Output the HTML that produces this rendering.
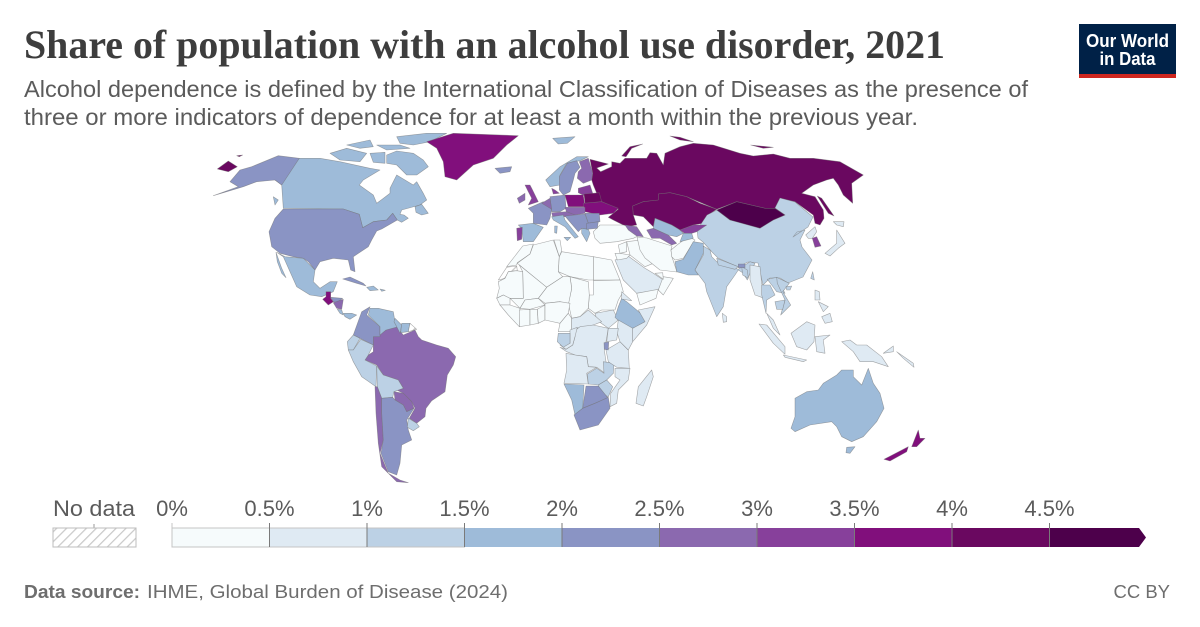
<!DOCTYPE html>
<html lang="en">
<head>
<meta charset="utf-8">
<title>Share of population with an alcohol use disorder, 2021</title>
<style>
html,body{margin:0;padding:0;background:#fff;width:1200px;height:627px;overflow:hidden}
svg{display:block}
text{font-family:"Liberation Sans",sans-serif}
</style>
</head>
<body>
<svg id="chart" width="1200" height="627" viewBox="0 0 1200 627" xmlns="http://www.w3.org/2000/svg">
<defs>
<pattern id="hatch" patternUnits="userSpaceOnUse" width="7" height="7" patternTransform="rotate(45)">
<rect width="7" height="7" fill="#fff"/>
<line x1="0" y1="0" x2="0" y2="7" stroke="#c9c9c9" stroke-width="2.5"/>
</pattern>
</defs>
<rect width="1200" height="627" fill="#fff"/>
<text x="24" y="58" textLength="921" lengthAdjust="spacingAndGlyphs" style="font-family:'Liberation Serif',serif;font-weight:700;font-size:40px" fill="#3d3d3d">Share of population with an alcohol use disorder, 2021</text>
<text x="24" y="97" textLength="1004" lengthAdjust="spacingAndGlyphs" font-size="23" fill="#5b5b5b">Alcohol dependence is defined by the International Classification of Diseases as the presence of</text>
<text x="24" y="125" textLength="894" lengthAdjust="spacingAndGlyphs" font-size="23" fill="#5b5b5b">three or more indicators of dependence for at least a month within the previous year.</text>
<g>
<rect x="1079" y="24" width="97" height="54" fill="#002147"/>
<rect x="1079" y="74" width="97" height="4" fill="#ce261e"/>
<text x="1127.5" y="47" text-anchor="middle" font-size="18" font-weight="700" fill="#fff" textLength="83" lengthAdjust="spacingAndGlyphs">Our World</text>
<text x="1127.5" y="65" text-anchor="middle" font-size="18" font-weight="700" fill="#fff" textLength="56" lengthAdjust="spacingAndGlyphs">in Data</text>
</g>
<g id="map"></g>
<g id="legend">
<text x="53" y="516" font-size="22" fill="#5b5b5b" textLength="82" lengthAdjust="spacingAndGlyphs">No data</text>
<line x1="94" y1="524" x2="94" y2="528" stroke="#999"/>
<rect x="53" y="528" width="83" height="19" fill="url(#hatch)" stroke="#bdbdbd"/>
</g>
<text x="24" y="598" font-size="18.5" font-weight="700" fill="#6e6e6e" textLength="116" lengthAdjust="spacingAndGlyphs">Data source:</text>
<text x="147" y="598" font-size="18.5" fill="#6e6e6e" textLength="361" lengthAdjust="spacingAndGlyphs">IHME, Global Burden of Disease (2024)</text>
<text x="1170" y="598" text-anchor="end" font-size="18.5" fill="#6e6e6e">CC BY</text>
</svg>
<script>
// Legend data
const binEdges = [0, 0.5, 1, 1.5, 2, 2.5, 3, 3.5, 4, 4.5];
const tickLabels = ["0%", "0.5%", "1%", "1.5%", "2%", "2.5%", "3%", "3.5%", "4%", "4.5%"];
const binColors = ["#f6fbfc", "#dfeaf3", "#bcd1e5", "#9ebbd9", "#8a94c4", "#8b69af", "#87409b", "#810f7c", "#6a0860", "#4d004b"];

// Country values (% of population)
const countries = ["Russia","Kazakhstan","Mongolia","China","Canada","USA","Alaska","Chukotka","Greenland","Iceland","UK","Ireland","Mexico","Guatemala","Honduras","Nicaragua","Costa Rica","Panama","Cuba","Hispaniola","Jamaica","Brazil","Colombia","Venezuela","Guyana","Suriname","French Guiana","Ecuador","Peru","Bolivia","Paraguay","Chile","Argentina","Uruguay","Morocco","Western Sahara","Algeria","Tunisia","Libya","Egypt","Sudan","South Sudan","Chad","Niger","Mali","Mauritania","Senegal","Guinea","Ivory Coast","Burkina Faso","Ghana","Nigeria","Cameroon","Central African Republic","Ethiopia","Eritrea","Somalia","DR Congo","Congo","Gabon","Angola","Zambia","Tanzania","Kenya","Uganda","Rwanda","Mozambique","Zimbabwe","Namibia","Botswana","South Africa","Madagascar","Saudi Arabia","Yemen","Oman","Iraq","Syria","Turkey","Iran","Afghanistan","Pakistan","India","Nepal","Bangladesh","Bhutan","Turkmenistan","Uzbekistan","Kyrgyzstan","Tajikistan","Caucasus","France","Spain","Portugal","Germany","Benelux","Denmark","Norway","Sweden","Finland","Baltics","Poland","Belarus","Ukraine","Romania","Czechia Hungary","Austria","Italy","Sardinia","Sicily","Balkans","Greece","Bulgaria","North Korea","South Korea","Japan","Hokkaido","Myanmar","Thailand","Laos","Vietnam","Cambodia","Malaysia","Sumatra","Java","Borneo","Sulawesi","New Guinea","Philippines","Mindanao","Australia","Tasmania","New Zealand","Sri Lanka","Taiwan","Hainan","Novaya Zemlya","Svalbard","Benin Togo","UAE","Jordan"];
const values = [4.2,4.1,4.8,1.2,1.7,2.2,2.2,4.2,3.7,2.2,3.2,2.8,1.7,3.8,2.2,2.7,1.7,1.7,2.0,1.7,1.7,2.7,2.2,1.7,1.7,1.7,null,1.2,1.2,1.2,2.7,2.8,2.2,1.3,0.2,null,0.2,0.2,0.2,0.2,0.2,0.7,0.2,0.2,0.2,0.2,0.3,0.3,0.3,0.2,0.3,0.2,0.3,0.7,1.7,0.7,0.7,0.7,0.7,1.2,0.7,1.2,0.7,0.7,0.7,2.2,0.7,1.2,1.7,2.2,2.3,0.7,0.7,0.2,0.2,0.2,0.2,0.2,0.2,0.2,1.7,1.2,1.2,1.2,2.2,2.7,1.7,3.2,1.7,2.6,2.2,1.7,3.2,2.2,2.7,3.2,1.7,2.2,2.7,3.0,3.7,4.2,3.7,2.3,2.9,2.7,1.8,1.8,1.8,2.4,1.7,2.2,0.7,3.2,0.7,0.7,0.7,1.2,1.2,1.2,1.2,0.7,0.7,0.7,0.7,0.7,0.7,0.7,0.7,1.7,1.7,3.7,0.7,1.2,1.2,4.2,1.7,0.3,0.2,0.2];

// Map geometry: outline for each country, relative to a zoom frame
const frameOrigins = {a:[0,0,1], b:[200,125,1/3], c:[480,130,1/3], d:[480,230,1/3], e:[660,220,1/3], f:[300,280,1/3], g:[510,170,1/3]};
const geometry = [
["Russia","c","330,88 385,102 350,114 362,125 395,110 395,95 420,100 435,85 500,85 510,68 530,70 550,105 555,70 600,50 640,40 700,45 780,70 820,78 880,72 930,85 1000,85 1080,95 1150,135 1115,160 1118,220 1090,195 1075,165 1060,145 1040,150 1000,165 965,190 1005,200 1030,240 1032,265 1020,285 1005,280 1000,255 945,215 900,205 885,235 855,235 770,215 710,238 620,200 570,188 535,192 535,210 490,215 458,228 460,255 470,285 440,290 400,270 385,262 415,238 365,215 350,190 340,165 335,150 338,130"],
["Russia","c","1012,198 1025,205 1062,258 1045,250"],
["Novaya Zemlya","c","425,78 450,50 488,42 455,55 438,80"],
["Novaya Zemlya","c","570,18 600,22 640,35 600,30"],
["Novaya Zemlya","c","812,45 880,52 850,55"],
["Svalbard","c","218,25 285,20 262,40 235,42"],
["Kazakhstan","c","458,228 490,215 535,210 535,192 570,188 620,200 660,220 710,238 680,258 670,280 640,285 600,300 575,285 525,265 520,290 490,260 460,255"],
["China","a","697,230 707,215 717,210 730,220 760,227 773,220 785,215 775,208 780,198 795,202 813,217 808,227 793,237 797,232 805,230 800,240 802,247 812,260 803,277 788,283 780,278 770,278 763,285 758,263 748,262 738,267 718,258 712,252 703,242 698,238"],
["Mongolia","c","710,240 770,215 855,235 885,235 915,255 880,270 840,295 750,270"],
["Canada","b","298,100 225,165 245,180 250,250 430,252 478,268 488,308 520,290 560,285 578,265 592,285 605,292 625,280 612,270 600,268 605,255 660,240 680,225 670,205 650,170 640,180 590,150 570,190 570,205 530,235 520,210 478,180 490,165 540,135 510,130 420,110 360,100"],
["Canada","b","560,90 590,78 640,85 670,105 685,125 650,150 620,150 590,120 560,115"],
["Canada","b","590,35 680,25 740,25 690,50 640,60 600,55"],
["Canada","b","390,85 440,70 500,85 480,110 420,105"],
["Canada","b","440,60 510,45 520,65 480,70"],
["Canada","b","530,60 600,60 630,70 560,75"],
["Canada","b","510,85 555,82 555,115 520,112"],
["Canada","b","645,245 665,238 685,265 665,270 648,262"],
["Canada","b","220,215 235,225 225,240"],
["USA","b","250,252 430,252 478,268 488,308 520,290 560,285 578,265 592,285 575,295 545,312 530,318 515,345 505,365 460,395 465,440 452,435 445,405 400,400 360,410 345,435 325,410 310,400 280,395 240,385 215,365 207,320 225,280"],
["Alaska","b","298,100 235,92 155,125 120,135 90,170 115,185 40,212 130,185 170,170 225,165 245,180"],
["Chukotka","b","52,132 85,108 112,125 85,140"],
["Chukotka","b","110,92 128,90 118,95"],
["Greenland","b","680,50 760,25 955,32 920,60 880,100 820,120 770,165 735,155 730,110 710,70"],
["Iceland","b","885,130 935,125 930,140 900,145"],
["Ireland","g","22,85 45,70 45,90 28,100"],
["Mexico","b","230,382 255,395 310,400 345,435 340,470 360,490 390,470 412,470 400,500 365,515 330,510 290,485 270,440 250,395"],
["Mexico","b","228,382 245,430 258,458 245,445 232,410"],
["Guatemala","f","68,58 78,50 78,35 92,35 92,55 100,65 85,75"],
["Honduras","f","92,52 128,55 110,68 100,65"],
["Nicaragua","f","100,68 130,58 125,88 110,85"],
["Costa Rica","f","112,88 125,90 130,105 120,100"],
["Panama","f","130,100 155,100 170,105 150,118 135,110"],
["Cuba","b","428,462 450,456 490,475 498,483 470,475"],
["Hispaniola","b","500,487 520,483 535,495 510,497"],
["Jamaica","b","540,492 556,496 545,499"],
["Brazil","f","220,170 258,150 290,140 310,165 345,150 355,170 365,180 410,195 445,205 467,230 460,255 442,285 435,335 395,362 378,385 375,410 350,430 328,415 345,385 335,365 310,340 290,330 310,325 295,300 250,285 230,255 195,240 205,225 220,215"],
["Colombia","f","160,165 185,95 210,80 200,105 240,140 240,170 220,170 220,195 180,175"],
["Venezuela","f","210,85 235,85 280,95 285,125 295,140 258,150 240,165 240,140 205,105"],
["Guyana","f","285,115 305,135 300,160 290,140 282,125"],
["Suriname","f","305,130 330,130 325,155 302,158"],
["French Guiana","f","330,130 350,148 325,155"],
["Ecuador","f","142,185 160,165 180,175 160,210 145,210"],
["Peru","f","145,210 160,210 182,178 220,195 205,225 195,240 230,258 228,320 185,290 160,245"],
["Bolivia","f","230,258 250,285 295,300 310,325 282,335 278,352 245,355 232,320"],
["Paraguay","f","282,335 310,340 335,365 342,385 320,395 310,375 285,360"],
["Chile","f","225,320 232,320 245,355 245,400 250,480 240,520 265,580 300,600 325,608 290,605 245,560 235,490 228,400"],
["Argentina","f","245,355 278,352 285,360 310,375 320,395 342,385 320,420 325,450 335,480 305,495 300,550 290,585 265,575 243,520 250,480 245,400"],
["Uruguay","f","325,415 350,430 358,440 340,452 322,442"],
["Morocco","d","160,42 128,48 105,78 80,110 110,105 112,98 150,72"],
["Western Sahara","d","55,150 80,112 110,108 112,122 85,125 75,145"],
["Algeria","d","160,45 220,30 238,80 235,125 248,140 200,172 112,100 150,72"],
["Tunisia","d","222,30 240,30 245,62 238,80"],
["Libya","d","245,65 340,80 340,150 325,150 270,140 235,125 238,80"],
["Egypt","d","340,80 395,90 420,150 340,150"],
["Sudan","d","340,152 420,150 430,185 415,210 405,240 385,240 365,240 345,250 325,235 328,195 340,195"],
["South Sudan","d","345,250 400,240 415,270 385,295 350,270"],
["Chad","d","270,140 325,155 328,195 325,235 300,260 275,265 265,220 275,175"],
["Niger","d","200,172 248,140 270,140 275,175 265,225 240,215 195,220 175,205"],
["Mali","d","118,105 200,172 175,205 135,210 120,235 90,205 130,205 128,125"],
["Mauritania","d","55,155 75,145 85,125 110,122 128,125 130,205 88,205 70,195 50,205 58,175"],
["Senegal","d","50,205 70,195 90,205 90,225 60,225"],
["Guinea","d","60,225 90,225 120,235 118,290 85,255"],
["Ivory Coast","d","118,240 150,238 150,285 118,290"],
["Burkina Faso","d","135,210 175,205 195,225 150,238 120,235"],
["Ghana","d","150,238 172,238 175,280 150,285"],
["Benin Togo","d","172,238 195,225 195,270 175,280"],
["Nigeria","d","195,220 240,215 270,220 265,250 240,280 195,270"],
["Cameroon","d","240,280 265,250 275,265 275,300 280,305 235,305"],
["Central African Republic","d","275,265 300,260 325,240 365,275 340,285 290,295 275,300"],
["Ethiopia","d","425,205 440,215 470,240 505,270 470,290 445,300 405,262 415,230"],
["Eritrea","d","425,185 455,212 425,207"],
["Somalia","d","475,240 525,230 500,285 458,335 458,295 495,275"],
["DR Congo","d","280,305 300,290 340,285 385,295 378,335 373,360 378,395 400,430 375,430 350,412 325,410 320,380 285,375 260,365 240,352 258,358 278,345 285,320"],
["Congo","d","270,300 292,292 285,320 278,345 258,358 240,345 250,335 270,340"],
["Gabon","d","235,310 270,310 270,340 250,352 232,335"],
["Angola","d","258,370 285,375 320,380 325,410 350,412 320,430 325,462 252,460 260,420"],
["Zambia","d","322,432 350,415 372,430 370,395 402,400 400,430 380,450 355,465 325,462"],
["Tanzania","d","378,360 420,335 445,360 448,415 410,412 385,395"],
["Kenya","d","415,270 458,295 458,335 445,360 420,335 410,305"],
["Uganda","d","385,295 415,295 410,330 380,335"],
["Rwanda","d","372,338 386,336 385,360 373,358"],
["Mozambique","d","405,415 450,415 445,450 415,480 410,520 390,530 392,490 420,450 405,440"],
["Zimbabwe","d","355,465 380,450 398,470 385,500 360,490"],
["Namibia","d","252,462 312,465 308,535 285,555 275,510"],
["Botswana","d","318,468 355,468 385,505 345,520 308,535"],
["South Africa","d","308,535 345,520 385,502 390,535 355,585 300,600 282,555"],
["Madagascar","d","515,420 520,440 500,500 490,528 468,520 475,470"],
["Saudi Arabia","d","405,90 440,75 495,115 520,130 550,150 535,180 470,190 430,150"],
["Yemen","d","470,190 535,178 528,205 480,225"],
["Oman","d","550,140 580,145 550,195 535,180"],
["UAE","d","525,130 548,128 550,148"],
["Iraq","d","440,35 480,30 490,60 520,100 495,110 450,75"],
["Syria","d","415,45 440,35 440,65 420,70"],
["Jordan","d","405,70 420,70 450,75 440,85 412,90"],
["Turkey","g","250,185 270,165 340,165 375,175 390,195 370,205 320,215 270,220 255,205"],
["Iran","a","637,237 647,238 653,240 672,246 671,250 672,257 677,272 660,270 645,258 640,250"],
["Afghanistan","e","33,90 55,72 85,50 105,60 95,75 70,115 45,120 35,110"],
["Pakistan","e","45,125 70,118 100,65 130,70 130,100 105,150 115,165 85,165 50,155"],
["India","e","130,78 150,90 155,110 170,125 235,148 270,125 285,130 268,165 262,180 248,158 235,150 225,165 200,200 190,260 170,290 140,215 135,190 105,150 130,105"],
["Nepal","e","170,115 235,140 225,148 175,135"],
["Bangladesh","e","245,140 262,150 265,175 248,165"],
["Bhutan","e","235,132 255,132 255,143 235,143"],
["Turkmenistan","c","500,300 520,295 565,315 590,340 575,345 540,325 515,325"],
["Uzbekistan","c","525,265 575,285 600,300 610,310 590,320 565,315 520,295"],
["Kyrgyzstan","c","600,300 640,285 680,285 650,305 620,315"],
["Tajikistan","c","610,310 635,310 640,325 600,335"],
["Caucasus","c","435,285 470,290 490,320 470,318 445,300"],
["France","g","55,115 100,95 125,115 120,145 110,165 70,160 70,130"],
["UK","g","45,45 60,45 65,55 85,95 55,105 65,85 55,65"],
["Spain","g","25,165 70,160 100,172 70,215 40,215 35,175"],
["Portugal","g","20,175 37,172 35,208 22,212"],
["Germany","g","120,80 165,75 168,115 150,125 125,125"],
["Benelux","g","95,100 120,85 125,118"],
["Denmark","g","125,55 135,60 148,70 130,72"],
["Norway","c","197,150 240,110 290,80 325,80 300,92 260,100 240,135 240,165 210,170"],
["Sweden","c","262,100 290,92 300,112 285,130 280,150 270,185 250,195 238,180 238,140"],
["Finland","c","298,95 325,85 338,130 335,150 310,160 292,145 295,125 305,115"],
["Baltics","g","205,55 240,45 248,70 225,78 205,68"],
["Poland","g","165,75 220,75 225,110 175,110"],
["Belarus","g","222,72 268,68 275,95 225,100"],
["Ukraine","g","220,100 275,95 325,115 310,130 270,135 225,125"],
["Romania","g","225,130 268,130 270,155 235,160"],
["Czechia Hungary","g","165,112 225,112 225,130 195,135 170,128"],
["Austria","g","125,128 170,125 195,135 165,140 128,140"],
["Italy","g","125,140 160,135 165,150 205,200 195,205 165,170 130,150"],
["Sardinia","c","224,288 232,288 230,310 224,308"],
["Sicily","c","252,322 272,322 262,332"],
["Balkans","g","165,138 195,135 225,132 235,160 230,178 215,175 205,185 175,150"],
["Greece","g","215,175 235,178 240,190 230,215 215,190"],
["Bulgaria","g","230,160 265,155 262,175 230,178"],
["North Korea","e","437,45 465,20 470,35 457,55 445,55"],
["South Korea","e","457,55 470,50 483,78 465,82"],
["Japan","e","495,100 530,70 530,30 555,70 535,85 510,108"],
["Hokkaido","e","520,5 552,5 550,20 530,15"],
["Myanmar","e","270,135 300,140 305,190 320,240 300,230 285,225 270,180"],
["Thailand","e","305,195 330,195 345,225 320,240 318,280 305,225"],
["Laos","e","322,178 350,172 375,220 350,215 335,195"],
["Vietnam","e","350,172 388,190 368,215 392,255 362,285 375,240 352,190"],
["Cambodia","e","345,245 375,240 368,268 350,268"],
["Malaysia","e","320,280 340,300 360,345 340,325"],
["Sumatra","e","297,312 320,315 375,380 375,403 340,370"],
["Java","e","370,405 440,420 430,425 375,412"],
["Borneo","e","393,340 440,305 465,315 462,365 440,390 410,380"],
["Sulawesi","e","465,350 510,345 490,360 495,400 470,395"],
["New Guinea","e","545,365 570,360 590,375 620,375 665,410 685,440 640,425 600,425 580,395"],
["New Guinea","e","670,400 700,378 700,395"],
["New Guinea","e","710,395 760,430 762,442 730,415"],
["Philippines","e","465,210 478,215 480,240 465,240"],
["Philippines","e","475,245 505,260 490,275"],
["Mindanao","e","485,290 510,280 517,305 495,310"],
["Australia","e","405,535 440,515 475,510 490,490 530,465 545,450 580,450 580,470 605,495 625,445 640,490 660,520 672,565 650,605 610,650 575,665 545,650 530,620 515,605 450,615 405,635 393,625 405,590"],
["Tasmania","e","560,682 585,680 570,700 558,698"],
["New Zealand","e","672,718 745,680 740,695 690,723"],
["New Zealand","e","755,680 775,630 780,655 795,655 770,680"],
["Sri Lanka","e","187,280 200,290 200,305 190,307"],
["Taiwan","e","458,155 463,180 452,175"],
["Hainan","e","378,200 395,198 390,210 380,210"]
];

function legendX(v) { return 172 + v * 195; }
function colorFor(v) {
  if (v === null || v === undefined) return "url(#hatch)";
  let idx = 0;
  for (let i = 0; i < binEdges.length; i++) { if (v >= binEdges[i]) idx = i; }
  return binColors[idx];
}
const NS = "http://www.w3.org/2000/svg";
const mapG = document.getElementById("map");
geometry.forEach(function (g) {
  const o = frameOrigins[g[1]];
  const idx = countries.indexOf(g[0]);
  const el = document.createElementNS(NS, "polygon");
  const pts = g[2].split(" ").map(function (p) {
    const xy = p.split(",");
    return (o[0] + xy[0] * o[2]).toFixed(1) + "," + (o[1] + xy[1] * o[2]).toFixed(1);
  }).join(" ");
  el.setAttribute("points", pts);
  el.setAttribute("fill", colorFor(values[idx]));
  el.setAttribute("stroke", "#6f6f6f");
  el.setAttribute("stroke-opacity", "0.6");
  el.setAttribute("stroke-width", "0.6");
  el.setAttribute("stroke-linejoin", "round");
  
  
  mapG.appendChild(el);
});

const legendG = document.getElementById("legend");
const legendTop = 528, legendH = 19, legendEnd = 1139;
binEdges.forEach(function (edge, i) {
  const x0 = legendX(edge);
  const x1 = i + 1 < binEdges.length ? legendX(binEdges[i + 1]) : legendEnd;
  const seg = document.createElementNS(NS, "path");
  let d = "M" + x0 + "," + legendTop + " L" + x1 + "," + legendTop;
  if (i + 1 === binEdges.length) d += " L" + (x1 + 7) + "," + (legendTop + legendH / 2);
  d += " L" + x1 + "," + (legendTop + legendH) + " L" + x0 + "," + (legendTop + legendH) + " Z";
  seg.setAttribute("d", d);
  seg.setAttribute("fill", binColors[i]);
  seg.setAttribute("stroke", i < 3 ? "#c4c4c4" : "none");
  
  
  legendG.appendChild(seg);
});
binEdges.forEach(function (edge, i) {
  const x = legendX(edge);
  const tick = document.createElementNS(NS, "line");
  tick.setAttribute("x1", x);
  tick.setAttribute("x2", x);
  tick.setAttribute("y1", 523);
  tick.setAttribute("y2", legendTop + legendH);
  tick.setAttribute("stroke", i === 0 ? "#c4c4c4" : "#7a7a7a");
  
  
  legendG.appendChild(tick);
  const label = document.createElementNS(NS, "text");
  label.setAttribute("x", x);
  label.setAttribute("y", 516);
  label.setAttribute("text-anchor", "middle");
  label.setAttribute("font-size", "22");
  label.setAttribute("fill", "#5b5b5b");
  label.textContent = tickLabels[i];
  
  
  legendG.appendChild(label);
});
</script>
</body>
</html>
